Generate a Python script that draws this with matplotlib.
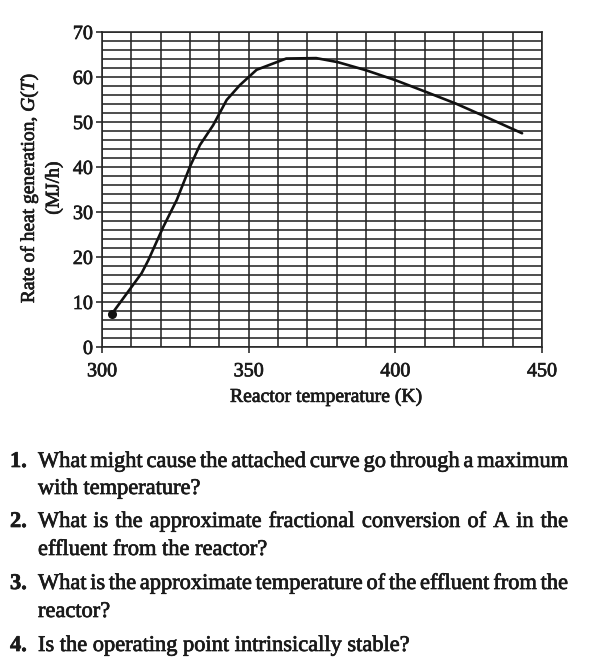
import matplotlib
matplotlib.use("Agg")
import matplotlib.pyplot as plt
import matplotlib.patheffects as pe
import numpy as np

# ---------------- data ----------------
temperature_K = [303.3, 313.5, 315.8, 320.9, 325.5, 330.0, 333.4, 337.9, 342.5,
                 347.0, 352.7, 362.8, 373.0, 380.4, 390.0, 400.0, 410.4, 420.6,
                 429.6, 443.2]
heat_gen_MJh = [7.3, 16.4, 19.3, 26.7, 32.7, 40.1, 44.9, 49.3, 54.9,
                58.2, 61.6, 64.1, 64.2, 63.3, 61.5, 59.3, 56.7, 54.1,
                51.5, 47.5]
x_ticks = [300, 350, 400, 450]
y_ticks = [0, 10, 20, 30, 40, 50, 60, 70]
x_label = "Reactor temperature (K)"
y_label1 = "Rate of heat generation, $G$($T$)"
y_label2 = "(MJ/h)"
questions = [
    ("1.", ["What might cause the attached curve go through a maximum",
            "with temperature?"]),
    ("2.", ["What is the approximate fractional conversion of A in the",
            "effluent from the reactor?"]),
    ("3.", ["What is the approximate temperature of the effluent from the",
            "reactor?"]),
    ("4.", ["Is the operating point intrinsically stable?"]),
]

# ---------------- style ----------------
plt.rcParams['font.family'] = ['Liberation Serif', 'DejaVu Serif']
plt.rcParams['mathtext.fontset'] = 'custom'
plt.rcParams['mathtext.rm'] = 'Liberation Serif'
plt.rcParams['mathtext.it'] = 'Liberation Serif:italic'
INK = '#1a1a1a'
GRID = '#262626'
HEAVY = [pe.withStroke(linewidth=0.5, foreground=INK)]

W, H = 595, 668
fig = plt.figure(figsize=(W / 100, H / 100), dpi=100)
fig.patch.set_facecolor('white')
renderer = fig.canvas.get_renderer()


def fx(px):
    return px / W


def fy(py):
    return 1 - py / H


def text_width(s, size, **kw):
    t = fig.text(0, 0, s, fontsize=size, **kw)
    w = t.get_window_extent(renderer).width
    t.remove()
    return w


def fit_size(s, target_px, **kw):
    return 10 * target_px / text_width(s, 10, **kw)


def put(x, y, s, **kw):
    t = fig.text(fx(x), fy(y), s, color=INK, **kw)
    t.set_path_effects(HEAVY)
    return t


# ---------------- axes ----------------
ax_l, ax_r, ax_t, ax_b = 102, 542, 32, 347
ax = fig.add_axes([fx(ax_l), fy(ax_b), fx(ax_r - ax_l), (ax_b - ax_t) / H])
ax.set_xlim(300, 450)
ax.set_ylim(0, 70)

ax.set_xticks(x_ticks)
ax.set_yticks(y_ticks)
ax.set_xticks(np.arange(300, 451, 10), minor=True)
ax.set_yticks(np.arange(0, 71, 2), minor=True)
ax.grid(True, which='both', color=GRID, lw=1.15)
ax.set_axisbelow(True)

tick_size = fit_size("450", 30)
ax.tick_params(axis='both', which='major', direction='out', length=4.5,
               width=1.15, color=GRID, labelsize=tick_size, labelcolor=INK)
ax.tick_params(axis='x', which='major', pad=6.5)
ax.tick_params(axis='y', which='major', pad=2)
ax.tick_params(axis='both', which='minor', length=0)
for lab in ax.get_xticklabels() + ax.get_yticklabels():
    lab.set_path_effects(HEAVY)
for sp in ax.spines.values():
    sp.set_color(GRID)
    sp.set_linewidth(1.15)

ax.plot(temperature_K, heat_gen_MJh, color='#111111', lw=1.9,
        solid_joinstyle='round', solid_capstyle='round', zorder=5)
ax.plot(temperature_K[:1], heat_gen_MJh[:1], 'o', color='#111111',
        markersize=5.5, zorder=6)

# axis labels
xl_size = fit_size(x_label, 192)
put(326, 397, x_label, fontsize=xl_size, ha='center', va='center')
yl_size = fit_size(y_label1, 231)
put(29, 188, y_label1, fontsize=yl_size, ha='center', va='center', rotation=90)
put(54, 188, y_label2, fontsize=yl_size, ha='center', va='center', rotation=90)

# ---------------- questions ----------------
q_size = fit_size("Is the operating point intrinsically stable?", 372)
num_x, txt_x, right_x = 10, 38, 568
baselines = [[467, 494], [527, 555], [589, 617], [651]]
for (num, lines), bls in zip(questions, baselines):
    put(num_x, bls[0], num, fontsize=q_size, fontweight='bold',
        ha='left', va='baseline')
    for i, (line, bl) in enumerate(zip(lines, bls)):
        justify = (i < len(lines) - 1)
        if not justify:
            put(txt_x, bl, line, fontsize=q_size, ha='left', va='baseline')
            continue
        words = line.split(' ')
        widths = [text_width(w, q_size) for w in words]
        gap = (right_x - txt_x - sum(widths)) / (len(words) - 1)
        x = txt_x
        for w, wd in zip(words, widths):
            put(x, bl, w, fontsize=q_size, ha='left', va='baseline')
            x += wd + gap

fig.savefig("out.png", dpi=100, facecolor='white')
